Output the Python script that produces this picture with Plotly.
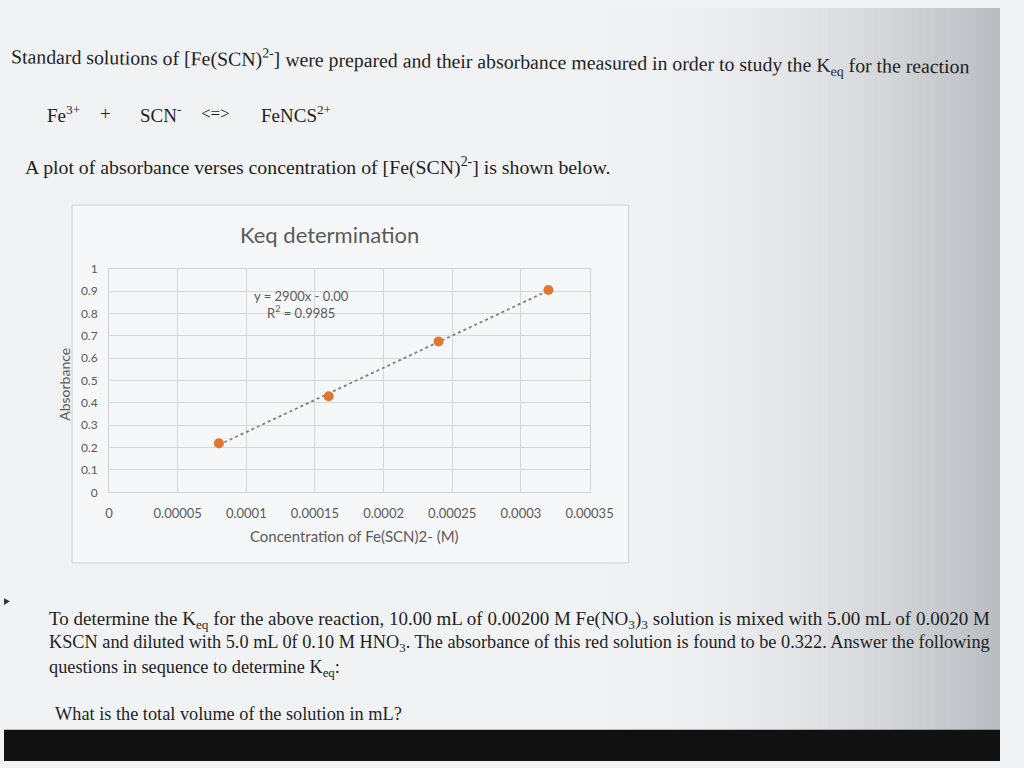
import plotly.graph_objects as go
import numpy as np

# ---- data ----
conc = [0.00008, 0.00016, 0.00024, 0.00032]
absorb = [0.22, 0.43, 0.675, 0.905]
x_ticks = [0, 0.00005, 0.0001, 0.00015, 0.0002, 0.00025, 0.0003, 0.00035]
x_tick_labels = ["0", "0.00005", "0.0001", "0.00015", "0.0002", "0.00025", "0.0003", "0.00035"]
y_ticks = [0, 0.1, 0.2, 0.3, 0.4, 0.5, 0.6, 0.7, 0.8, 0.9, 1]
y_tick_labels = ["0", "0.1", "0.2", "0.3", "0.4", "0.5", "0.6", "0.7", "0.8", "0.9", "1"]
chart_title = "Keq determination"
x_title = "Concentration of Fe(SCN)2- (M)"
y_title = "Absorbance"
equation_text = "y = 2900x - 0.00<br>R<sup>2</sup> = 0.9985"

W, H = 1024, 768
def px(x):
    return x / W
def py(y):
    return 1 - y / H

slope, intercept = np.polyfit(conc, absorb, 1)
trend_x = [conc[0], conc[-1]]
trend_y = [slope * v + intercept for v in trend_x]

fig = go.Figure()
fig.add_trace(go.Scatter(x=trend_x, y=trend_y, mode="lines",
                         line=dict(color="#7f7f7f", width=1.8, dash="dot"),
                         hoverinfo="skip", showlegend=False))
fig.add_trace(go.Scatter(x=conc, y=absorb, mode="markers",
                         marker=dict(color="#E0762F", size=10),
                         showlegend=False))

shapes = []
# smooth-ish shading toward the right edge, like the photographed screen
n_strips = 40
c_start = np.array([0xf0, 0xf1, 0xf3])
c_end = np.array([0xb7, 0xbb, 0xbf])
for i in range(n_strips):
    t = i / (n_strips - 1)
    xs = 620 + (1024 - 620) * (t ** 0.8)
    col = c_start + (c_end - c_start) * (t ** 1.6)
    shapes.append(dict(type="rect", xref="paper", yref="paper", x0=px(xs), x1=1.0,
                       y0=py(736), y1=1.0,
                       fillcolor="rgb(%d,%d,%d)" % tuple(col.astype(int)),
                       line=dict(width=0), layer="below"))
# chart box
shapes.append(dict(type="rect", xref="paper", yref="paper", x0=px(70), x1=px(642),
                   y0=py(566), y1=py(201), fillcolor="#f6f7f8",
                   line=dict(color="#cfd1d3", width=1), layer="below"))
# dark band at the bottom
shapes.append(dict(type="rect", xref="paper", yref="paper", x0=0, x1=1,
                   y0=0, y1=py(736), fillcolor="#111111", line=dict(width=0), layer="above"))
shapes.append(dict(type="path", xref="paper", yref="paper",
                   path=f"M 0 {py(602)} L {px(6)} {py(605)} L 0 {py(609)} Z",
                   fillcolor="#333333", line=dict(width=0)))

serif_family = "Liberation Serif, Times New Roman, serif"
def serif(size):
    return dict(family=serif_family, size=size, color="#1e1e1e")
sans_family = "Lato, Open Sans, sans-serif"
def sans(size):
    return dict(family=sans_family, size=size, color="#5a5a5a")

ann = []
def txt(x, y, s, font, xanchor="left", angle=0):
    ann.append(dict(x=px(x), y=py(y), xref="paper", yref="paper", text=s, showarrow=False,
                    xanchor=xanchor, yanchor="middle", font=font, align="left", textangle=angle))

txt(500, 55, "Standard solutions of [Fe(SCN)<sup>2-</sup>] were prepared and their absorbance measured in order to study the K<sub>eq</sub> for the reaction",
    serif(19.8), xanchor="center", angle=0.6)
txt(42, 108, "Fe<sup>3+</sup>", serif(19))
txt(97, 108, "+", serif(19))
txt(138, 108, "SCN<sup>-</sup>", serif(19))
txt(200, 108, "&lt;=&gt;", serif(17))
txt(262, 108, "FeNCS<sup>2+</sup>", serif(19))
txt(20, 162, "A plot of absorbance verses concentration of [Fe(SCN)<sup>2-</sup>] is shown below.", serif(19.8))

txt(44, 624, "To determine the K<sub>eq</sub> for the above reaction, 10.00 mL of 0.00200 M Fe(NO<sub>3</sub>)<sub>3</sub> solution is mixed with 5.00 mL of 0.0020 M", serif(19))
txt(44, 648, "KSCN and diluted with 5.0 mL 0f 0.10 M HNO<sub>3</sub>. The absorbance of this red solution is found to be 0.322. Answer the following", serif(18.3))
txt(44, 674, "questions in sequence to determine K<sub>eq</sub>:", serif(18.3))
txt(50, 720, "What is the total volume of the solution in mL?", serif(18.3))

# chart texts
txt(335, 231, chart_title, sans(22), xanchor="center")
txt(360, 539, x_title, sans(15), xanchor="center")
ann.append(dict(x=px(62), y=py(384), xref="paper", yref="paper", text=y_title, showarrow=False,
                textangle=-90, font=sans(14), xanchor="center", yanchor="middle"))
ann.append(dict(x=px(306), y=py(302), xref="paper", yref="paper", text=equation_text, showarrow=False,
                font=sans(13), xanchor="center", yanchor="middle", align="center"))

fig.update_layout(
    width=W, height=H, margin=dict(l=0, r=0, t=0, b=0),
    paper_bgcolor="#f1f2f4", plot_bgcolor="#f6f7f8",
    shapes=shapes, annotations=ann, showlegend=False,
    xaxis=dict(domain=[px(108), px(602)], range=[0, 0.00035], tickvals=x_ticks, ticktext=x_tick_labels,
               showgrid=True, gridcolor="#d6d7d9", gridwidth=1, zeroline=False,
               showline=True, linecolor="#d0d1d3", mirror=True, ticks="",
               tickfont=sans(13), ticklabelstandoff=9),
    yaxis=dict(domain=[py(494), py(266)], range=[0, 1], tickvals=y_ticks, ticktext=y_tick_labels,
               showgrid=True, gridcolor="#d6d7d9", gridwidth=1, zeroline=False,
               showline=True, linecolor="#d0d1d3", mirror=True, ticks="",
               tickfont=sans(12), ticklabelstandoff=8),
)

post = ("document.documentElement.style.margin='0';document.documentElement.style.overflow='hidden';"
        "document.body.style.margin='0';document.body.style.overflow='hidden';")
fig.write_html("out.html", config={"displayModeBar": False}, post_script=post)
